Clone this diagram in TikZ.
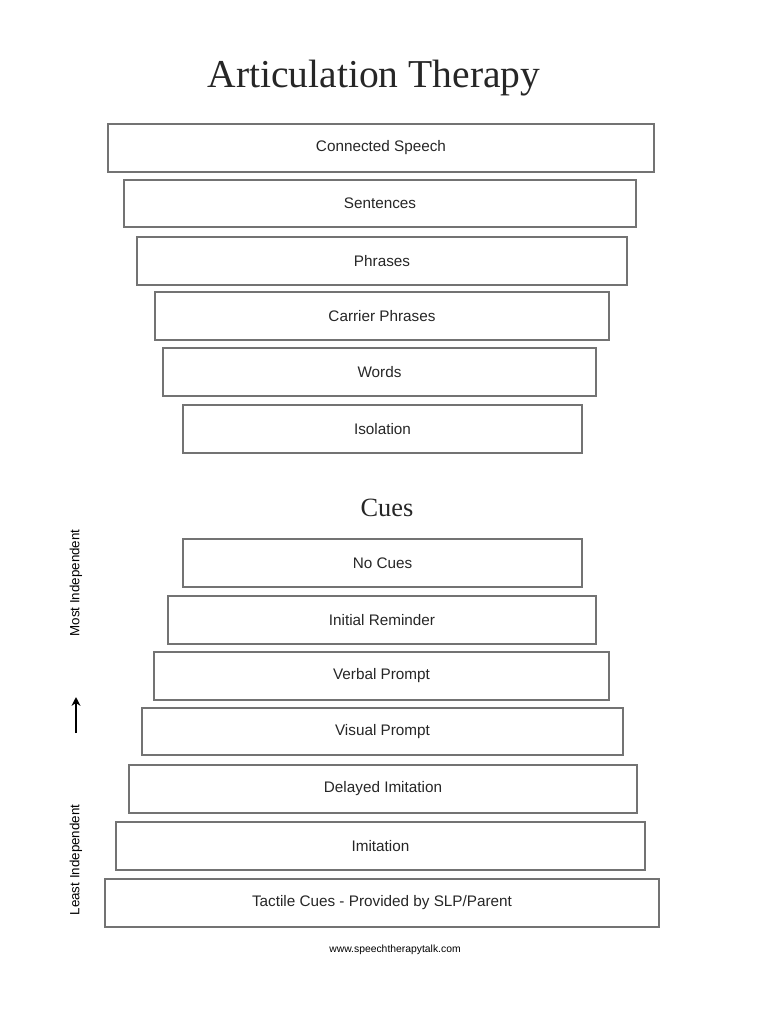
\documentclass[tikz,border=0pt]{standalone}
\usepackage{fontspec}
\setmainfont{Liberation Serif}
\setsansfont{Liberation Sans}
\usetikzlibrary{positioning,arrows.meta}

\begin{document}
\begin{tikzpicture}[x=0.02cm, y=-0.02cm,
    stepbox/.style={draw=black!55, line width=1.6pt, inner sep=0pt},
    steptext/.style={font=\sffamily\fontsize{8.7}{10}\selectfont, text=black!85},
    sidelabel/.style={font=\sffamily\fontsize{7.6}{9}\selectfont, rotate=90}]
    \useasboundingbox (0,0) rectangle (768,1024);

    % Titles
    \node[font=\fontsize{22.5}{26}\selectfont, text=black!85] (title) at (374,78) {Articulation Therapy};
    \node[font=\fontsize{15}{18}\selectfont, text=black!85] (cues) at (387,508) {Cues};

    % Levels of practice
    \foreach \l/\r/\t/\b/\txt [count=\i] in {
        108/654/124/172/{Connected Speech},
        124/636/180/227/{Sentences},
        137/627/237/285/{Phrases},
        155/609/292/340/{Carrier Phrases},
        163/596/348/396/{Words},
        183/582/405/453/{Isolation}}
    {
        \draw[stepbox] (\l,\t) rectangle (\r,\b);
        \node[steptext] (lvl\i) at ({(\l+\r)/2},{(\t+\b)/2}) {\txt};
    }

    % Cue hierarchy
    \foreach \l/\r/\t/\b/\txt [count=\i] in {
        183/582/539/587/{No Cues},
        168/596/596/644/{Initial Reminder},
        154/609/652/700/{Verbal Prompt},
        142/623/708/755/{Visual Prompt},
        129/637/765/813/{Delayed Imitation},
        116/645/822/870/{Imitation},
        105/659/879/927/{Tactile Cues - Provided by SLP/Parent}}
    {
        \draw[stepbox] (\l,\t) rectangle (\r,\b);
        \node[steptext] (cue\i) at ({(\l+\r)/2},{(\t+\b)/2}) {\txt};
    }

    % Side scale
    \node[sidelabel] (most) at (76,583) {Most Independent};
    \node[sidelabel] (least) at (76,860) {Least Independent};
    \coordinate (arrlo) at (76,733);
    \coordinate (arrhi) at (76,697);
    \draw[-{Stealth[length=5pt,width=5pt]}, line width=1.3pt] (arrlo) -- (arrhi);

    % Footer
    \node[font=\sffamily\fontsize{5.9}{7}\selectfont] (web) at (395,950) {www.speechtherapytalk.com};
\end{tikzpicture}
\end{document}
